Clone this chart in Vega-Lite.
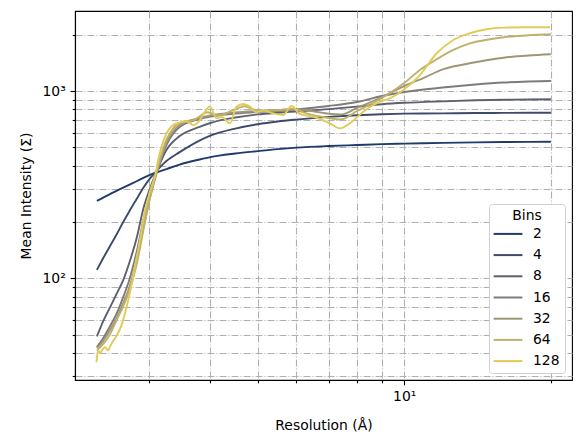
{
  "$schema": "https://vega.github.io/schema/vega-lite/v6.json",
  "description": "Mean intensity against resolution for several bin counts, log-log.",
  "width": 497,
  "height": 369,
  "autosize": {"type": "none"},
  "padding": {"left": 75, "top": 11, "right": 12, "bottom": 55},
  "background": "white",
  "config": {
    "font": "DejaVu Sans",
    "view": {"stroke": "black", "strokeWidth": 1.1},
    "axis": {
      "labelFont": "DejaVu Sans",
      "labelFontSize": 13.9,
      "labelColor": "black",
      "titleFont": "DejaVu Sans",
      "titleFontSize": 13.9,
      "titleFontWeight": "normal",
      "titleColor": "black",
      "domainColor": "black",
      "domainWidth": 1.1,
      "tickColor": "black",
      "tickWidth": 1.1,
      "labelPadding": 4.9,
      "labelOverlap": false,
      "labelFlush": false,
      "grid": true,
      "gridColor": "#b0b0b0",
      "gridWidth": 1.1,
      "gridDash": [7, 2, 1, 2],
      "gridOpacity": 1
    },
    "legend": {
      "labelFont": "DejaVu Sans",
      "labelFontSize": 13.9,
      "labelColor": "black",
      "titleFont": "DejaVu Sans",
      "titleFontSize": 13.9,
      "titleFontWeight": "normal",
      "titleColor": "black"
    }
  },
  "data": {
    "values": [
      {"bins": "2", "res": 2.34, "mi": 259},
      {"bins": "2", "res": 2.49, "mi": 282},
      {"bins": "2", "res": 2.65, "mi": 305},
      {"bins": "2", "res": 2.83, "mi": 331},
      {"bins": "2", "res": 3.0, "mi": 356},
      {"bins": "2", "res": 3.25, "mi": 383},
      {"bins": "2", "res": 3.46, "mi": 405},
      {"bins": "2", "res": 3.8, "mi": 431},
      {"bins": "2", "res": 4.0, "mi": 444},
      {"bins": "2", "res": 4.5, "mi": 464},
      {"bins": "2", "res": 5.0, "mi": 478},
      {"bins": "2", "res": 5.5, "mi": 490},
      {"bins": "2", "res": 6, "mi": 499},
      {"bins": "2", "res": 7, "mi": 509},
      {"bins": "2", "res": 8, "mi": 515},
      {"bins": "2", "res": 9, "mi": 521},
      {"bins": "2", "res": 10, "mi": 524},
      {"bins": "2", "res": 12, "mi": 529},
      {"bins": "2", "res": 14, "mi": 532},
      {"bins": "2", "res": 16, "mi": 534},
      {"bins": "2", "res": 18, "mi": 535},
      {"bins": "2", "res": 20, "mi": 536},

      {"bins": "4", "res": 2.34, "mi": 111},
      {"bins": "4", "res": 2.41, "mi": 128},
      {"bins": "4", "res": 2.49, "mi": 149},
      {"bins": "4", "res": 2.57, "mi": 172},
      {"bins": "4", "res": 2.65, "mi": 200},
      {"bins": "4", "res": 2.73, "mi": 229},
      {"bins": "4", "res": 2.83, "mi": 268},
      {"bins": "4", "res": 2.91, "mi": 303},
      {"bins": "4", "res": 3.0, "mi": 339},
      {"bins": "4", "res": 3.1, "mi": 374},
      {"bins": "4", "res": 3.25, "mi": 423},
      {"bins": "4", "res": 3.46, "mi": 472},
      {"bins": "4", "res": 3.8, "mi": 544},
      {"bins": "4", "res": 4.0, "mi": 578},
      {"bins": "4", "res": 4.5, "mi": 630},
      {"bins": "4", "res": 5, "mi": 665},
      {"bins": "4", "res": 5.5, "mi": 688},
      {"bins": "4", "res": 6, "mi": 704},
      {"bins": "4", "res": 7, "mi": 728},
      {"bins": "4", "res": 8, "mi": 743},
      {"bins": "4", "res": 9, "mi": 752},
      {"bins": "4", "res": 10, "mi": 757},
      {"bins": "4", "res": 12, "mi": 760},
      {"bins": "4", "res": 14, "mi": 763},
      {"bins": "4", "res": 16, "mi": 764},
      {"bins": "4", "res": 18, "mi": 765},
      {"bins": "4", "res": 20, "mi": 766},

      {"bins": "8", "res": 2.34, "mi": 49},
      {"bins": "8", "res": 2.41, "mi": 59},
      {"bins": "8", "res": 2.49, "mi": 70},
      {"bins": "8", "res": 2.57, "mi": 83},
      {"bins": "8", "res": 2.65, "mi": 98},
      {"bins": "8", "res": 2.73, "mi": 122},
      {"bins": "8", "res": 2.83, "mi": 168},
      {"bins": "8", "res": 2.91, "mi": 232},
      {"bins": "8", "res": 3.0, "mi": 296},
      {"bins": "8", "res": 3.1, "mi": 369},
      {"bins": "8", "res": 3.25, "mi": 484},
      {"bins": "8", "res": 3.46, "mi": 575},
      {"bins": "8", "res": 3.8, "mi": 643},
      {"bins": "8", "res": 4.0, "mi": 675},
      {"bins": "8", "res": 4.5, "mi": 722},
      {"bins": "8", "res": 5, "mi": 750},
      {"bins": "8", "res": 5.5, "mi": 766},
      {"bins": "8", "res": 6, "mi": 778},
      {"bins": "8", "res": 7, "mi": 800},
      {"bins": "8", "res": 8, "mi": 826},
      {"bins": "8", "res": 9, "mi": 850},
      {"bins": "8", "res": 10, "mi": 865},
      {"bins": "8", "res": 12, "mi": 881},
      {"bins": "8", "res": 14, "mi": 892},
      {"bins": "8", "res": 16, "mi": 898},
      {"bins": "8", "res": 18, "mi": 901},
      {"bins": "8", "res": 20, "mi": 903},

      {"bins": "16", "res": 2.34, "mi": 43},
      {"bins": "16", "res": 2.41, "mi": 48},
      {"bins": "16", "res": 2.49, "mi": 55.6},
      {"bins": "16", "res": 2.57, "mi": 65},
      {"bins": "16", "res": 2.65, "mi": 79.5},
      {"bins": "16", "res": 2.73, "mi": 99},
      {"bins": "16", "res": 2.83, "mi": 142},
      {"bins": "16", "res": 2.91, "mi": 200},
      {"bins": "16", "res": 3.0, "mi": 275},
      {"bins": "16", "res": 3.1, "mi": 369},
      {"bins": "16", "res": 3.25, "mi": 515},
      {"bins": "16", "res": 3.46, "mi": 642},
      {"bins": "16", "res": 3.8, "mi": 709},
      {"bins": "16", "res": 4.0, "mi": 731},
      {"bins": "16", "res": 4.5, "mi": 758},
      {"bins": "16", "res": 5, "mi": 773},
      {"bins": "16", "res": 5.5, "mi": 782},
      {"bins": "16", "res": 6, "mi": 797},
      {"bins": "16", "res": 7, "mi": 832},
      {"bins": "16", "res": 8, "mi": 874},
      {"bins": "16", "res": 9, "mi": 940},
      {"bins": "16", "res": 10, "mi": 988},
      {"bins": "16", "res": 12, "mi": 1044},
      {"bins": "16", "res": 14, "mi": 1083},
      {"bins": "16", "res": 16, "mi": 1110},
      {"bins": "16", "res": 18, "mi": 1124},
      {"bins": "16", "res": 20, "mi": 1131},

      {"bins": "32", "res": 2.34, "mi": 42.5},
      {"bins": "32", "res": 2.41, "mi": 46.3},
      {"bins": "32", "res": 2.49, "mi": 53},
      {"bins": "32", "res": 2.57, "mi": 61.4},
      {"bins": "32", "res": 2.65, "mi": 73.8},
      {"bins": "32", "res": 2.73, "mi": 90},
      {"bins": "32", "res": 2.83, "mi": 128},
      {"bins": "32", "res": 2.91, "mi": 181},
      {"bins": "32", "res": 3.0, "mi": 262},
      {"bins": "32", "res": 3.1, "mi": 360},
      {"bins": "32", "res": 3.25, "mi": 528},
      {"bins": "32", "res": 3.46, "mi": 658},
      {"bins": "32", "res": 3.8, "mi": 718},
      {"bins": "32", "res": 4.0, "mi": 740},
      {"bins": "32", "res": 4.5, "mi": 768},
      {"bins": "32", "res": 5, "mi": 782},
      {"bins": "32", "res": 5.5, "mi": 792},
      {"bins": "32", "res": 6, "mi": 797},
      {"bins": "32", "res": 6.5, "mi": 780},
      {"bins": "32", "res": 7, "mi": 756},
      {"bins": "32", "res": 7.4, "mi": 749},
      {"bins": "32", "res": 8, "mi": 812},
      {"bins": "32", "res": 9, "mi": 929},
      {"bins": "32", "res": 10, "mi": 1063},
      {"bins": "32", "res": 11, "mi": 1180},
      {"bins": "32", "res": 12, "mi": 1303},
      {"bins": "32", "res": 14, "mi": 1423},
      {"bins": "32", "res": 16, "mi": 1506},
      {"bins": "32", "res": 18, "mi": 1547},
      {"bins": "32", "res": 20, "mi": 1570},

      {"bins": "64", "res": 2.34, "mi": 41.4},
      {"bins": "64", "res": 2.41, "mi": 44.6},
      {"bins": "64", "res": 2.49, "mi": 50.4},
      {"bins": "64", "res": 2.57, "mi": 60},
      {"bins": "64", "res": 2.65, "mi": 71},
      {"bins": "64", "res": 2.73, "mi": 86.6},
      {"bins": "64", "res": 2.83, "mi": 122},
      {"bins": "64", "res": 2.91, "mi": 177},
      {"bins": "64", "res": 3.0, "mi": 262},
      {"bins": "64", "res": 3.1, "mi": 369},
      {"bins": "64", "res": 3.25, "mi": 548},
      {"bins": "64", "res": 3.46, "mi": 675},
      {"bins": "64", "res": 3.7, "mi": 700},
      {"bins": "64", "res": 3.95, "mi": 770},
      {"bins": "64", "res": 4.15, "mi": 740},
      {"bins": "64", "res": 4.5, "mi": 800},
      {"bins": "64", "res": 4.7, "mi": 830},
      {"bins": "64", "res": 5, "mi": 785},
      {"bins": "64", "res": 5.5, "mi": 790},
      {"bins": "64", "res": 5.9, "mi": 805},
      {"bins": "64", "res": 6.3, "mi": 760},
      {"bins": "64", "res": 7, "mi": 718},
      {"bins": "64", "res": 7.4, "mi": 705},
      {"bins": "64", "res": 8, "mi": 782},
      {"bins": "64", "res": 9, "mi": 918},
      {"bins": "64", "res": 10, "mi": 1103},
      {"bins": "64", "res": 10.77, "mi": 1295},
      {"bins": "64", "res": 11.66, "mi": 1477},
      {"bins": "64", "res": 12.61, "mi": 1656},
      {"bins": "64", "res": 13.64, "mi": 1797},
      {"bins": "64", "res": 15, "mi": 1890},
      {"bins": "64", "res": 16, "mi": 1935},
      {"bins": "64", "res": 18, "mi": 1984},
      {"bins": "64", "res": 20, "mi": 2008},

      {"bins": "128", "res": 2.336, "mi": 35.7},
      {"bins": "128", "res": 2.353, "mi": 41.4},
      {"bins": "128", "res": 2.372, "mi": 39.9},
      {"bins": "128", "res": 2.406, "mi": 41.9},
      {"bins": "128", "res": 2.429, "mi": 43.0},
      {"bins": "128", "res": 2.467, "mi": 41.4},
      {"bins": "128", "res": 2.493, "mi": 43.5},
      {"bins": "128", "res": 2.526, "mi": 46.3},
      {"bins": "128", "res": 2.559, "mi": 48.6},
      {"bins": "128", "res": 2.586, "mi": 51.1},
      {"bins": "128", "res": 2.62, "mi": 55.0},
      {"bins": "128", "res": 2.649, "mi": 59.9},
      {"bins": "128", "res": 2.692, "mi": 70.3},
      {"bins": "128", "res": 2.734, "mi": 83.5},
      {"bins": "128", "res": 2.769, "mi": 97.9},
      {"bins": "128", "res": 2.799, "mi": 114.9},
      {"bins": "128", "res": 2.867, "mi": 160},
      {"bins": "128", "res": 2.935, "mi": 226},
      {"bins": "128", "res": 3.005, "mi": 289},
      {"bins": "128", "res": 3.052, "mi": 327},
      {"bins": "128", "res": 3.077, "mi": 349},
      {"bins": "128", "res": 3.126, "mi": 428},
      {"bins": "128", "res": 3.176, "mi": 502},
      {"bins": "128", "res": 3.252, "mi": 595},
      {"bins": "128", "res": 3.355, "mi": 658},
      {"bins": "128", "res": 3.462, "mi": 679},
      {"bins": "128", "res": 3.574, "mi": 692},
      {"bins": "128", "res": 3.688, "mi": 658},
      {"bins": "128", "res": 3.806, "mi": 700},
      {"bins": "128", "res": 3.897, "mi": 773},
      {"bins": "128", "res": 3.991, "mi": 825},
      {"bins": "128", "res": 4.12, "mi": 715},
      {"bins": "128", "res": 4.224, "mi": 727},
      {"bins": "128", "res": 4.386, "mi": 672},
      {"bins": "128", "res": 4.527, "mi": 825},
      {"bins": "128", "res": 4.671, "mi": 853},
      {"bins": "128", "res": 4.822, "mi": 825},
      {"bins": "128", "res": 4.977, "mi": 770},
      {"bins": "128", "res": 5.134, "mi": 787},
      {"bins": "128", "res": 5.383, "mi": 760},
      {"bins": "128", "res": 5.644, "mi": 745},
      {"bins": "128", "res": 5.873, "mi": 832},
      {"bins": "128", "res": 6.108, "mi": 754},
      {"bins": "128", "res": 6.504, "mi": 729},
      {"bins": "128", "res": 7.038, "mi": 672},
      {"bins": "128", "res": 7.379, "mi": 632},
      {"bins": "128", "res": 7.736, "mi": 672},
      {"bins": "128", "res": 8.239, "mi": 776},
      {"bins": "128", "res": 8.915, "mi": 877},
      {"bins": "128", "res": 9.346, "mi": 914},
      {"bins": "128", "res": 9.953, "mi": 1012},
      {"bins": "128", "res": 10.77, "mi": 1217},
      {"bins": "128", "res": 11.66, "mi": 1590},
      {"bins": "128", "res": 12.61, "mi": 1873},
      {"bins": "128", "res": 13.64, "mi": 2033},
      {"bins": "128", "res": 14.76, "mi": 2135},
      {"bins": "128", "res": 15.97, "mi": 2178},
      {"bins": "128", "res": 17.69, "mi": 2189},
      {"bins": "128", "res": 19.92, "mi": 2189}
    ]
  },
  "mark": {"type": "line", "strokeWidth": 1.9, "interpolate": "monotone", "clip": true},
  "encoding": {
    "x": {
      "field": "res",
      "type": "quantitative",
      "scale": {"type": "log", "domain": [2.11, 22.1], "nice": false, "zero": false},
      "axis": {
        "title": "Resolution (Å)",
        "values": [3, 4, 5, 6, 7, 8, 9, 10, 20],
        "labelExpr": "datum.value == 10 ? '10¹' : ''",
        "tickSize": {"condition": {"test": "datum.value == 10", "value": 4.9}, "value": 2.8},
        "titlePadding": 15
      }
    },
    "y": {
      "field": "mi",
      "type": "quantitative",
      "scale": {"type": "log", "domain": [28.7, 2673], "nice": false, "zero": false},
      "axis": {
        "title": "Mean Intensity (Σ)",
        "values": [30, 40, 50, 60, 70, 80, 90, 100, 200, 300, 400, 500, 600, 700, 800, 900, 1000, 2000],
        "labelExpr": "datum.value == 100 ? '10²' : datum.value == 1000 ? '10³' : ''",
        "tickSize": {"condition": {"test": "datum.value == 100 || datum.value == 1000", "value": 4.9}, "value": 2.8},
        "titlePadding": 8
      }
    },
    "color": {
      "field": "bins",
      "type": "ordinal",
      "scale": {
        "domain": ["2", "4", "8", "16", "32", "64", "128"],
        "range": ["#203a6c", "#3d4a6b", "#5d616f", "#7d7c78", "#9e9676", "#bfb06c", "#e1cb58"]
      },
      "legend": {
        "title": "Bins",
        "orient": "bottom-right",
        "offset": 7,
        "padding": 5,
        "fillColor": "white",
        "strokeColor": "#d0d0d0",
        "cornerRadius": 3,
        "titleAnchor": "middle",
        "titlePadding": 1,
        "symbolType": "M-1.6,0H1.6",
        "symbolSize": 324,
        "symbolStrokeWidth": 2,
        "symbolOffset": 4,
        "rowPadding": 4.2,
        "labelOffset": 15
      }
    }
  }
}
